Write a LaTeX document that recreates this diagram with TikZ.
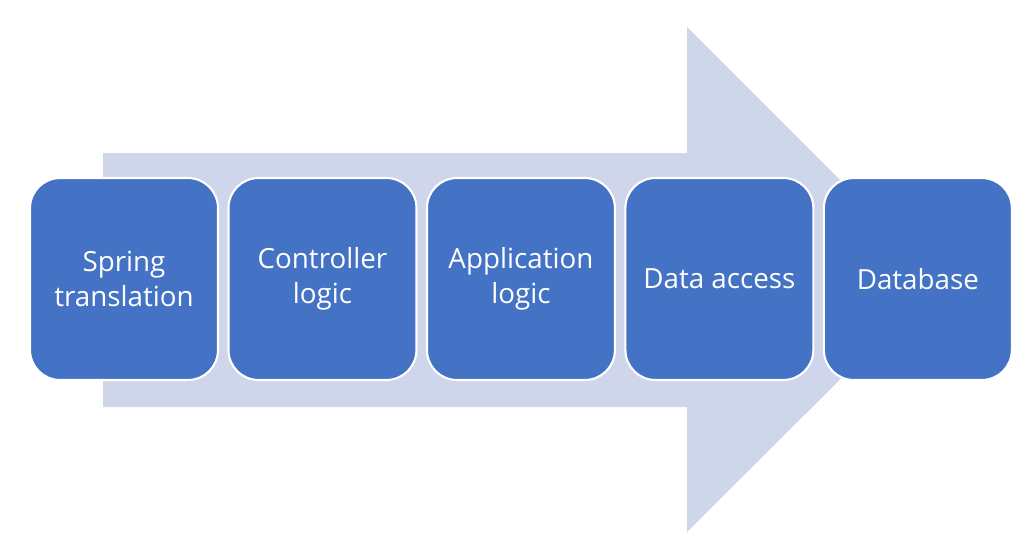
\documentclass[tikz,border=0pt]{standalone}
\usepackage{fontspec}
\setmainfont{Open Sans}
\usetikzlibrary{positioning}

\definecolor{stageblue}{HTML}{4472C4}
\definecolor{flowfill}{HTML}{CFD5EA}

\begin{document}
\begin{tikzpicture}[x=0.02cm, y=-0.02cm,
    stage/.style={rectangle, rounded corners=0.6cm, fill=stageblue, draw=white,
        line width=1.2pt, outer sep=0pt, minimum width=3.76cm, minimum height=4.04cm,
        text=white, align=center, font=\fontsize{15.8}{19.9}\selectfont},
    node distance=0.21cm]
\useasboundingbox (0,0) rectangle (1026,559);

% set up coordinates of the big arrow
\coordinate (tailtop) at (103,153);
\coordinate (tailbot) at (103,407);
\coordinate (neckup) at (687,153);
\coordinate (headup) at (687,27);
\coordinate (tip) at (940,280);
\coordinate (headdown) at (687,532);
\coordinate (neckdown) at (687,407);

% draw the big arrow
\fill[flowfill] (tailtop) -- (neckup) -- (headup) -- (tip) -- (headdown) -- (neckdown) -- (tailbot) -- cycle;

% draw the stages
\node[stage] (spring) at (124,279) {Spring\\translation};
\node[stage, right=of spring] (controller) {Controller\\logic};
\node[stage, right=of controller] (application) {Application\\logic};
\node[stage, right=of application] (dataaccess) {Data access};
\node[stage, right=of dataaccess] (database) {Database};

\end{tikzpicture}
\end{document}
